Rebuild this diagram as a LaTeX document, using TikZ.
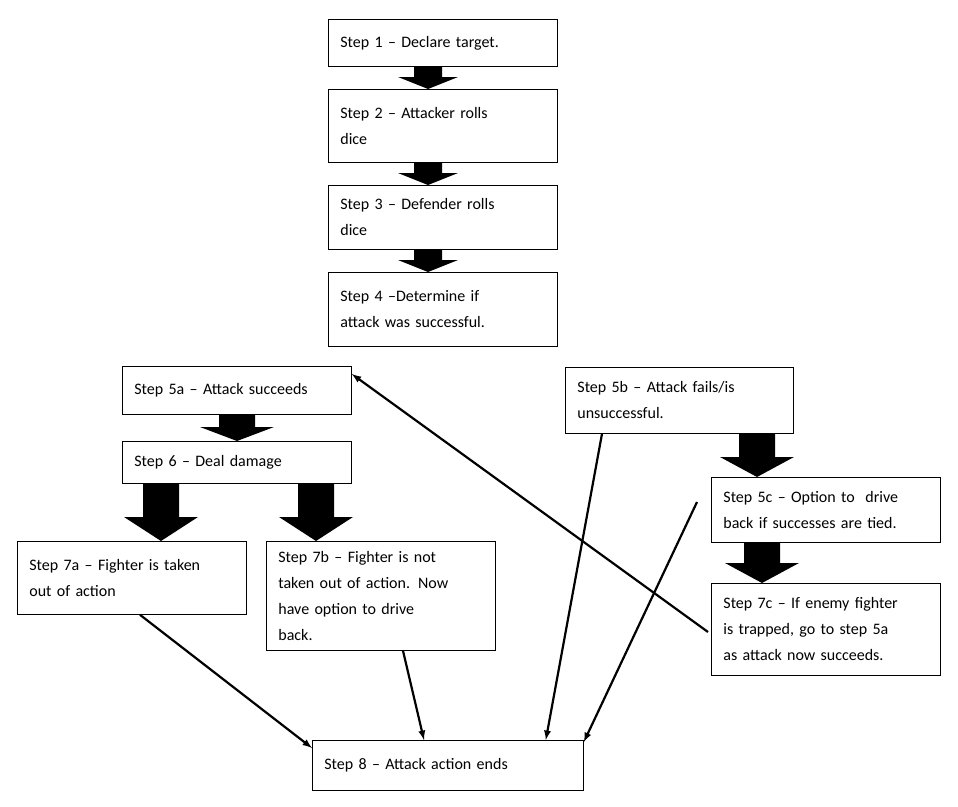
\documentclass[tikz,border=0pt]{standalone}
\usepackage{fontspec}
\setmainfont{Carlito}
\begin{document}
\begin{tikzpicture}[x=1pt,y=-1pt,
 box/.style={draw,line width=0.8pt,anchor=north west,align=left,inner xsep=12pt,inner ysep=0pt,font=\fontsize{16}{26}\selectfont},
 ln/.style={line width=2.2pt,-latex}]
\useasboundingbox (0,0) rectangle (958,806);
\newcommand{\bx}[6]{\node[box,text width=#4-24pt,minimum height=#5] (#1) at (#2,#3) {#6};}
\bx{s1}{328}{19}{229}{47}{Step 1 -- Declare target.}
\bx{s2}{328}{89}{229}{73}{Step 2 -- Attacker rolls\\dice}
\bx{s3}{328}{185}{229}{64}{Step 3 -- Defender rolls\\dice}
\bx{s4}{328}{272}{229}{74}{Step 4 --Determine if\\attack was successful.}
\bx{s5a}{122}{366}{229}{48}{Step 5a -- Attack succeeds}
\bx{s6}{122}{441}{229}{42}{Step 6 -- Deal damage}
\bx{s7a}{17}{541}{229}{73}{Step 7a -- Fighter is taken\\out of action}
\bx{s7b}{266}{541}{229}{109}{Step 7b -- Fighter is not\\taken out of action. Now\\have option to drive\\back.}
\bx{s5b}{565}{367}{228}{66}{Step 5b -- Attack fails/is\\unsuccessful.}
\bx{s5c}{711}{477}{229}{65}{Step 5c -- Option to~ drive\\back if successes are tied.}
\bx{s7c}{711}{583}{229}{92}{Step 7c -- If enemy fighter\\is trapped, go to step 5a\\as attack now succeeds.}
\bx{s8}{312}{740}{271}{50}{Step 8 -- Attack action ends}
\newcommand{\blk}[6]{\fill (#1-#4,#2) -- (#1+#4,#2) -- (#1+#4,#3-#6) -- (#1+#5,#3-#6) -- (#1,#3) -- (#1-#5,#3-#6) -- (#1-#4,#3-#6) -- cycle;}
\blk{428}{66}{89}{14}{30}{12}
\blk{428}{162}{185}{14}{30}{12}
\blk{428}{249}{272}{14}{30}{12}
\blk{237}{414}{441}{18}{37}{14}
\blk{161}{483}{541}{18}{37}{24}
\blk{316}{483}{541}{18}{37}{24}
\blk{757}{433}{477}{18}{37}{20}
\blk{762}{542}{583}{18}{37}{20}
\draw[ln] ([xshift=37pt]s5b.south west) -- ([xshift=-38pt]s8.north east);
\draw[ln] ([xshift=-14pt,yshift=-25pt]s5c.north west) -- ([yshift=-2pt]s8.north east);
\draw[ln] ([xshift=-3pt,yshift=-49pt]s7c.north west) -- ([yshift=-8pt]s5a.north east);
\draw[ln] ([xshift=123pt]s7a.south west) -- ([yshift=-8pt]s8.north west);
\draw[ln] ([xshift=137pt]s7b.south west) -- ([xshift=112pt]s8.north west);
\end{tikzpicture}
\end{document}
